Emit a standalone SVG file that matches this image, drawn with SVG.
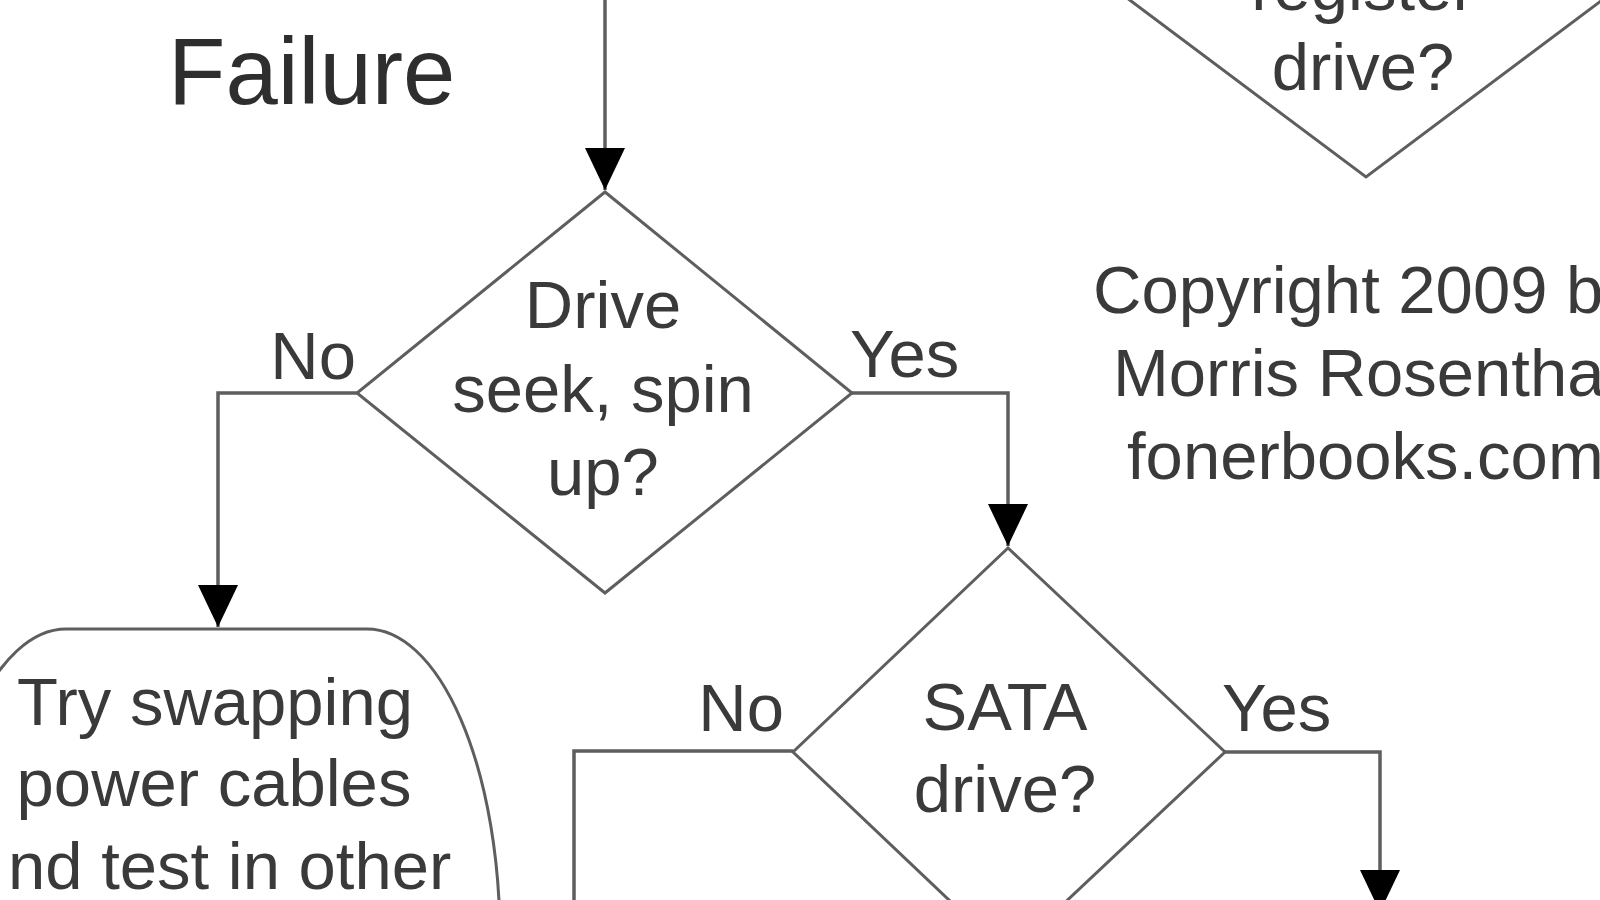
<svg xmlns="http://www.w3.org/2000/svg" width="1600" height="900" viewBox="0 0 1600 900">
  <style>
    .shape { fill: none; stroke: #5e5e5e; stroke-width: 3; stroke-linejoin: miter; }
    .conn { fill: none; stroke: #5e5e5e; stroke-width: 3.5; }
    .t { font-family: "Liberation Sans", Arial, sans-serif; font-size: 67px; fill: #3a3a3a; }
    .mid { text-anchor: middle; }
    .end { text-anchor: end; }
    .title { font-family: "Liberation Sans", Arial, sans-serif; font-size: 94px; fill: #2e2e2e; }
  </style>
  <defs>
    <marker id="arrow" markerUnits="userSpaceOnUse" markerWidth="44" markerHeight="42" refX="42" refY="20" orient="auto" viewBox="0 0 44 42">
      <path d="M0,0 L42,20 L0,40 Z" fill="#000"/>
    </marker>
  </defs>
  <rect width="1600" height="900" fill="#fff"/>

  <text class="title" x="168" y="104">Failure</text>

  <g id="connectors">
    <path class="conn" d="M605,-10 L605,190" marker-end="url(#arrow)"/>
    <path class="conn" d="M357,393 L218,393 L218,627" marker-end="url(#arrow)"/>
    <path class="conn" d="M852,393 L1008,393 L1008,546" marker-end="url(#arrow)"/>
    <path class="conn" d="M793,751 L574,751 L574,910"/>
    <path class="conn" d="M1225,752 L1380,752 L1380,912" marker-end="url(#arrow)"/>
    <text class="t end" x="356" y="379">No</text>
    <text class="t" x="850" y="377">Yes</text>
    <text class="t end" x="784" y="731">No</text>
    <text class="t" x="1222" y="731">Yes</text>
  </g>

  <g id="node-register-drive">
    <polygon class="shape" points="1366,-223 1633,-23 1366,177 1099,-23"/>
    <text class="t mid" x="1363" y="10">register</text>
    <text class="t mid" x="1363" y="90">drive?</text>
  </g>

  <g id="node-drive-seek">
    <polygon class="shape" points="605,192 852,393 605,593 357,393"/>
    <text class="t mid" x="603" y="328">Drive</text>
    <text class="t mid" x="603" y="412">seek, spin</text>
    <text class="t mid" x="603" y="495">up?</text>
  </g>

  <g id="node-sata">
    <polygon class="shape" points="1008,548 1225,752 1008,956 793,752"/>
    <text class="t mid" x="1005" y="730">SATA</text>
    <text class="t mid" x="1005" y="812">drive?</text>
  </g>

  <g id="node-swap-cables">
    <rect class="shape" x="-67" y="629" width="567" height="640" rx="133" ry="310"/>
    <text class="t mid" x="215" y="725">Try swapping</text>
    <text class="t mid" x="214" y="806">power cables</text>
    <text class="t" x="8" y="889">nd test in other</text>
  </g>

  <g id="copyright">
    <text class="t" x="1093" y="313">Copyright 2009 b</text>
    <text class="t" x="1113" y="396">Morris Rosentha</text>
    <text class="t" x="1127" y="479">fonerbooks.com</text>
  </g>
</svg>
